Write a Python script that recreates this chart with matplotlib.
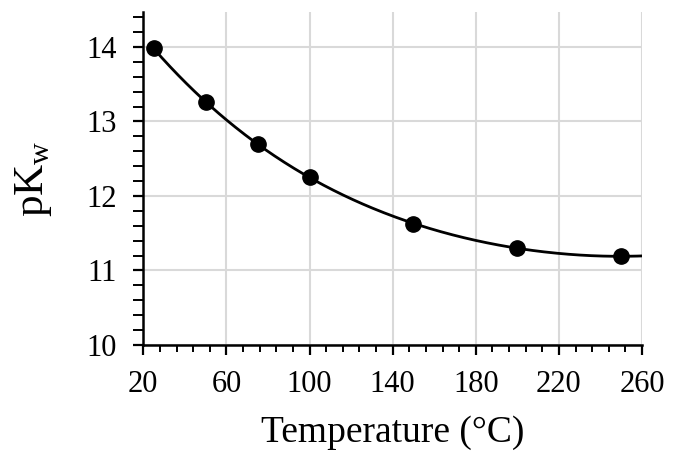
import matplotlib
matplotlib.use("Agg")
import matplotlib.pyplot as plt
import numpy as np
from matplotlib.ticker import FixedLocator, MultipleLocator

temp = [25, 50, 75, 100, 150, 200, 250]
pkw = [13.98, 13.26, 12.70, 12.25, 11.63, 11.30, 11.19]

plt.rcParams['font.family'] = ['Liberation Serif', 'DejaVu Serif']

fig = plt.figure(figsize=(6.74, 4.57), dpi=100)
ax = fig.add_axes([0.2126, 0.2451, 0.740, 0.7287])

# trendline through the points, carried on to 260
coef = np.polyfit(temp, pkw, 4)
xs = np.linspace(25, 260, 300)
ax.plot(xs, np.polyval(coef, xs), color='black', lw=2, zorder=3)
ax.plot(temp, pkw, 'o', color='black', ms=11, zorder=4)

ax.set_xlim(20, 260)
ax.set_ylim(10, 14.47)
ax.xaxis.set_major_locator(FixedLocator(np.arange(20, 261, 40)))
ax.xaxis.set_minor_locator(FixedLocator(np.arange(20, 261, 8)))
ax.yaxis.set_major_locator(MultipleLocator(1))
ax.yaxis.set_minor_locator(MultipleLocator(0.2))
ax.grid(True, which='major', color='#d9d9d9', lw=1.5, zorder=0)
ax.set_axisbelow(True)

for s in ['top', 'right']:
    ax.spines[s].set_visible(False)
for s in ['left', 'bottom']:
    ax.spines[s].set_linewidth(1.8)

ax.tick_params(which='major', length=7, width=1.6, labelsize=22)
ax.tick_params(which='minor', length=5, width=1.4)
ax.tick_params(axis='y', which='both', length=7, pad=12)
ax.tick_params(axis='x', which='major', pad=11)

ax.set_xlabel('Temperature (°C)', fontsize=27)
ax.xaxis.set_label_coords(0.5, -0.21)
ax.set_ylabel('pK$_\\mathregular{w}$', fontsize=31)
ax.yaxis.set_label_coords(-0.18, 0.5)

fig.savefig('out.png', dpi=100)
